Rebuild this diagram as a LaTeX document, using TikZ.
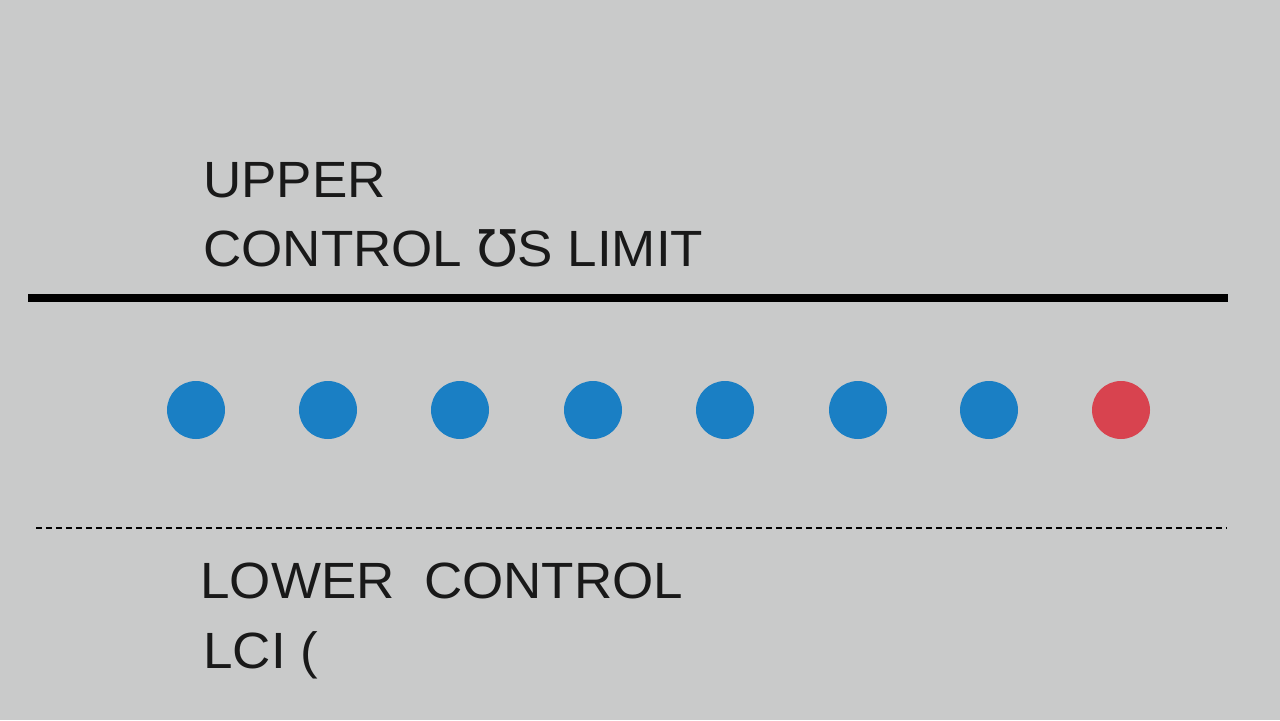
\documentclass[tikz,border=0pt]{standalone}
\usepackage{fontspec}
\setmainfont{Liberation Sans}
\newfontfamily\djv{DejaVu Sans}
\definecolor{bg}{HTML}{C9CACA}
\definecolor{dotblue}{HTML}{1A7FC4}
\definecolor{dotred}{HTML}{D8434F}
\begin{document}
\begin{tikzpicture}[x=0.02cm,y=-0.02cm,
  lbl/.style={anchor=base west,inner sep=0,font=\fontsize{29}{32}\selectfont,text=black!90,xscale=1.04},
  dot/.style={circle,fill=dotblue,minimum size=1.16cm,inner sep=0},
  hot/.style={dot,fill=dotred}]
\fill[bg] (0,0) rectangle (1280,720);
\useasboundingbox (0,0) rectangle (1280,720);
\node[lbl] (t1) at (203,197) {UPPER};
\node[lbl] (t2) at (203,266) {CONTROL {\djv Ʊ}S LIMIT};
\coordinate (u1) at (28,298); \coordinate (u2) at (1228,298);
\draw[line width=0.16cm] (u1) -- (u2);
\foreach \i/\x in {1/196,2/328,3/460,4/593,5/725,6/858,7/989}
  \node[dot] (d\i) at (\x,410) {};
\node[hot] (d8) at (1121,410) {};
\coordinate (l1) at (36,528); \coordinate (l2) at (1226,528);
\draw[line width=0.05cm,dash pattern=on 0.12cm off 0.08cm] (l1) -- (l2);
\node[lbl] (t3) at (200,598) {LOWER\; CONTROL};
\node[lbl] (t4) at (203,668) {LCI (};
\end{tikzpicture}
\end{document}
